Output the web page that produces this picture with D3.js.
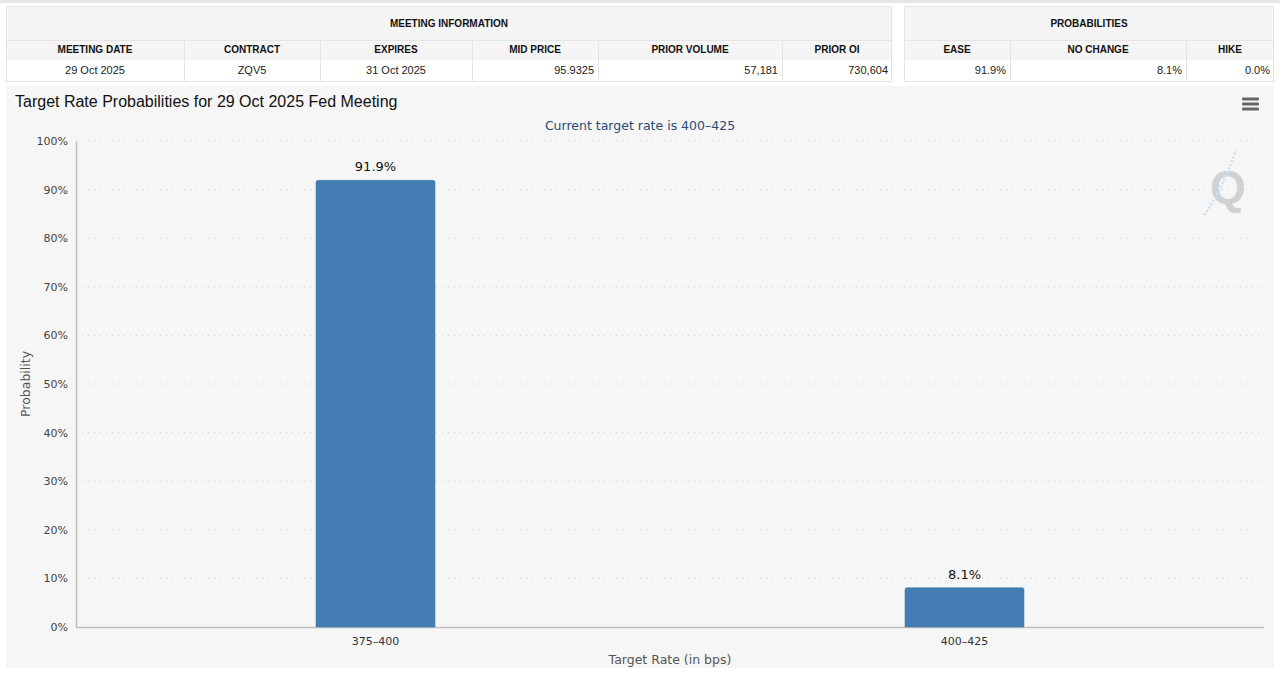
<!DOCTYPE html>
<html><head><meta charset="utf-8">
<script src="https://cdn.jsdelivr.net/npm/d3@7"></script>
<style>
body{margin:0;background:#fff;}
svg{display:block;}
</style></head>
<body>
<svg id="chart" width="1280" height="673"></svg>
<script>
// ---- data ----
const meetingHeaders = ["MEETING DATE","CONTRACT","EXPIRES","MID PRICE","PRIOR VOLUME","PRIOR OI"];
const meetingValues = ["29 Oct 2025","ZQV5","31 Oct 2025","95.9325","57,181","730,604"];
const meetingAlign = ["middle","middle","middle","end","end","end"];
const probHeaders = ["EASE","NO CHANGE","HIKE"];
const probValues = ["91.9%","8.1%","0.0%"];
const categories = ["375\u2013400","400\u2013425"];
const probabilities = [91.9, 8.1];
const yTicks = [0,10,20,30,40,50,60,70,80,90,100];
const chartTitle = "Target Rate Probabilities for 29 Oct 2025 Fed Meeting";
const chartSubtitle = "Current target rate is 400\u2013425";

const svg = d3.select("#chart");
const tableFont = "'Liberation Sans', Arial, sans-serif";
const chartFont = "'DejaVu Sans', Verdana, sans-serif";

// top rule
svg.append("rect").attr("x",0).attr("y",0).attr("width",1280).attr("height",3).attr("fill","#e6e6e6");

function drawTable(x0, cols, title, headers, values, aligns){
  const x1 = cols[cols.length-1];
  const g = svg.append("g");
  g.append("rect").attr("x",x0).attr("y",6).attr("width",x1-x0).attr("height",54).attr("fill","#f5f5f5");
  g.append("rect").attr("x",x0).attr("y",60).attr("width",x1-x0).attr("height",21).attr("fill","#ffffff");
  g.append("rect").attr("x",x0+0.5).attr("y",6.5).attr("width",x1-x0-1).attr("height",75).attr("fill","none").attr("stroke","#e4e4e4");
  g.append("line").attr("x1",x0).attr("x2",x1).attr("y1",40.5).attr("y2",40.5).attr("stroke","#e4e4e4");
  g.append("text").attr("x",(x0+x1)/2).attr("y",27).attr("text-anchor","middle")
    .attr("font-family",tableFont).attr("font-size",10).attr("font-weight","bold").attr("fill","#111").text(title);
  headers.forEach((h,i)=>{
    const a = cols[i], b = cols[i+1];
    if(i>0) g.append("line").attr("x1",a+0.5).attr("x2",a+0.5).attr("y1",40).attr("y2",81).attr("stroke","#e4e4e4");
    g.append("text").attr("x",(a+b)/2).attr("y",53).attr("text-anchor","middle")
      .attr("font-family",tableFont).attr("font-size",10).attr("font-weight","bold").attr("fill","#111").text(h);
    const al = aligns[i];
    const vx = al==="middle" ? (a+b)/2 : b-4;
    g.append("text").attr("x",vx).attr("y",74).attr("text-anchor",al)
      .attr("font-family",tableFont).attr("font-size",11).attr("fill","#222").text(values[i]);
  });
}
drawTable(6,[6,184,320,472,598,782,892],"MEETING INFORMATION",meetingHeaders,meetingValues,meetingAlign);
drawTable(904,[904,1010,1186,1274],"PROBABILITIES",probHeaders,probValues,["end","end","end"]);

// chart panel
svg.append("rect").attr("x",6).attr("y",86).attr("width",1268).attr("height",582).attr("fill","#f6f6f6");
svg.append("text").attr("x",15).attr("y",107).attr("font-family",tableFont).attr("font-size",16).attr("fill","#111").text(chartTitle);
svg.append("text").attr("x",640).attr("y",130).attr("text-anchor","middle").attr("font-family",chartFont)
  .attr("font-size",12.5).attr("fill","#2a4a76").text(chartSubtitle);

// hamburger
[99,104,109].forEach(y=>svg.append("rect").attr("x",1242).attr("y",y-1.5).attr("width",17).attr("height",3).attr("rx",1).attr("fill","#666"));

const m = {left:76, right:1264, top:141, bottom:627};
const x = d3.scaleBand().domain(categories).range([m.left+5,m.right-5]).padding(0);
const y = d3.scaleLinear().domain([0,100]).range([m.bottom,m.top]);

// grid
svg.append("g").selectAll("line").data(yTicks.filter(d=>d>0)).join("line")
  .attr("x1",m.left).attr("x2",m.right).attr("y1",d=>y(d)).attr("y2",d=>y(d))
  .attr("stroke","#cfcfcf").attr("stroke-width",1).attr("stroke-dasharray","1,5");

// Q watermark
const wm = svg.append("g").attr("opacity",0.55);
wm.append("text").attr("x",1228).attr("y",203).attr("text-anchor","middle").attr("font-family",tableFont)
  .attr("font-weight","bold").attr("font-size",46).attr("fill","#b0b4b8").text("Q");
wm.append("path").attr("d","M1204,215 Q1222,190 1236,150").attr("fill","none").attr("stroke","#a8d0ea").attr("stroke-width",2.5).attr("stroke-dasharray","2,2");

// y axis
const yAxis = svg.append("g").attr("transform",`translate(${m.left},0)`)
  .call(d3.axisLeft(y).tickValues(yTicks).tickFormat(d=>d+"%").tickSize(0).tickPadding(8));
yAxis.select(".domain").attr("stroke","#c0c0c0").attr("stroke-width",1.5);
yAxis.selectAll("text").attr("font-family",chartFont).attr("font-size",11).attr("fill","#444");

// x axis
const xAxis = svg.append("g").attr("transform",`translate(0,${m.bottom})`)
  .call(d3.axisBottom(x).tickSize(0).tickPadding(10));
xAxis.select(".domain").attr("d",`M${m.left},0.5H${m.right}`).attr("stroke","#c0c0c0").attr("stroke-width",1.5);
xAxis.selectAll("text").attr("font-family",chartFont).attr("font-size",11).attr("fill","#333");

// bars
const bw = 119;
svg.append("g").selectAll("path").data(categories).join("path")
  .attr("d",(c,i)=>{
    const x0 = x(c)+x.bandwidth()/2-bw/2, x1 = x0+bw, y0 = y(probabilities[i]), yb = y(0), r = 2;
    return `M${x0},${yb}V${y0+r}Q${x0},${y0} ${x0+r},${y0}H${x1-r}Q${x1},${y0} ${x1},${y0+r}V${yb}Z`;
  })
  .attr("fill","#447db3").attr("stroke","#3f76aa").attr("stroke-width",0.5);

svg.append("g").selectAll("text").data(categories).join("text")
  .attr("x",c=>x(c)+x.bandwidth()/2).attr("y",(c,i)=>y(probabilities[i])-9)
  .attr("text-anchor","middle").attr("font-family",chartFont).attr("font-size",13).attr("fill","#111")
  .text((c,i)=>probabilities[i].toFixed(1)+"%");

// axis titles
svg.append("text").attr("x",(m.left+m.right)/2).attr("y",664).attr("text-anchor","middle")
  .attr("font-family",chartFont).attr("font-size",12.5).attr("fill","#555").text("Target Rate (in bps)");
svg.append("text").attr("transform",`translate(30,${(m.top+m.bottom)/2}) rotate(-90)`).attr("text-anchor","middle")
  .attr("font-family",chartFont).attr("font-size",12.5).attr("fill","#555").text("Probability");
</script>
</body></html>
